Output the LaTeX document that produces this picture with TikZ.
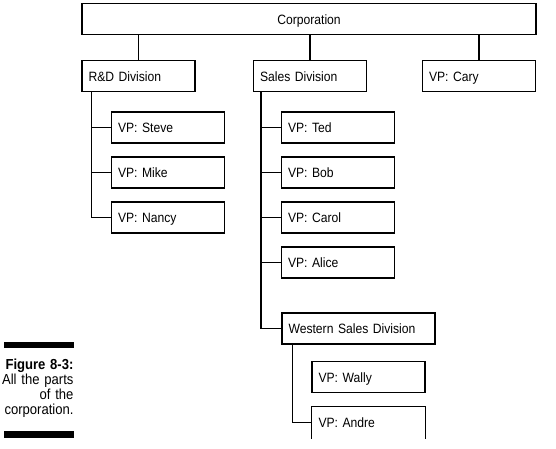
\documentclass[tikz,border=0pt]{standalone}
\usepackage{fontspec}
\setmainfont{Liberation Sans}[FakeStretch=0.9]
\usetikzlibrary{calc}

\begin{document}
\begin{tikzpicture}[x=1pt,y=-1pt,font=\fontsize{13.5}{15}\selectfont,line width=1.1pt]
    \tikzstyle{unit}=[draw,minimum height=31pt,inner ysep=0pt,inner xsep=6.5pt,text width=100pt,align=left,text height=10pt,text depth=0pt]
    \tikzstyle{figlabel}=[text width=80pt,align=right,font=\fontsize{14.5}{15}\selectfont,inner sep=0pt]

    \useasboundingbox (0,0) rectangle (556,448);

    \node[unit,text width=441pt,align=center] (corp) at (309,19) {Corporation};
    \node[unit] (rnd)   at (138.5,76) {R\&D Division};
    \node[unit] (sales) at (310,76)   {Sales Division};
    \node[unit] (cary)  at (479,76)   {VP: Cary};

    \node[unit] (steve) at (168,127.5) {VP: Steve};
    \node[unit] (mike)  at (168,172.5) {VP: Mike};
    \node[unit] (nancy) at (168,217.5) {VP: Nancy};

    \node[unit] (ted)   at (338,127.5) {VP: Ted};
    \node[unit] (bob)   at (338,172.5) {VP: Bob};
    \node[unit] (carol) at (338,217.5) {VP: Carol};
    \node[unit] (alice) at (338,262.5) {VP: Alice};

    \node[unit,text width=140pt] (western) at (358.5,328.5) {Western Sales Division};
    \node[unit] (wally) at (368.5,377)   {VP: Wally};
    \node[unit,draw=none] (andre) at (368.5,422.5) {VP: Andre};
    \draw (andre.south west) |- (andre.north east) -- (andre.south east);

    % top level
    \foreach \d in {rnd,sales,cary}
      \draw (corp.south -| \d.north) -- (\d.north);

    % R&D
    \coordinate (rndspine) at ($(rnd.south west)+(10,0)$);
    \draw (rndspine) |- (nancy.west);
    \foreach \v in {steve,mike}
      \draw (rndspine |- \v.west) -- (\v.west);

    % sales
    \coordinate (salesspine) at ($(sales.south west)+(8,0)$);
    \draw (salesspine) |- (western.west);
    \foreach \v in {ted,bob,carol,alice}
      \draw (salesspine |- \v.west) -- (\v.west);

    % western sales
    \coordinate (westspine) at ($(western.south west)+(11,0)$);
    \draw (westspine) |- (andre.west);

    % caption
    \fill (4,342) rectangle (74,348);
    \node[figlabel,anchor=north east] (figcap) at (74,358) {\textbf{Figure 8-3:}\\All the parts\\of the\\corporation.};
    \fill (4,431) rectangle (74,438);
\end{tikzpicture}
\end{document}
